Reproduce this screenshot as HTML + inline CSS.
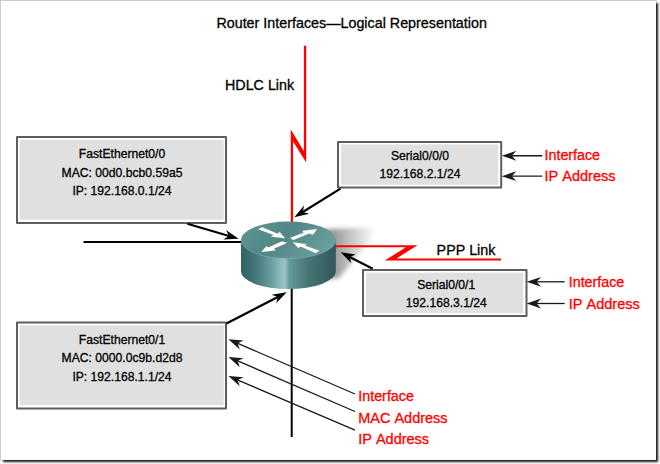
<!DOCTYPE html>
<html>
<head>
<meta charset="utf-8">
<title>Router Interfaces—Logical Representation</title>
<style>
html,body{margin:0;padding:0;background:#fff;}
body{width:660px;height:464px;overflow:hidden;position:relative;font-family:"Liberation Sans",Arial,sans-serif;}
#frame{position:absolute;left:0;top:0;width:656px;height:460px;box-sizing:border-box;border-top:1px solid #ccc;border-left:1px solid #ccc;background:#fff;box-shadow:2.5px 2.5px 2px -0.5px #1a1a1a;}
svg{position:absolute;left:0;top:0;}
text{font-family:"Liberation Sans",Arial,sans-serif;font-kerning:none;}
.t14{font-size:14.3px;fill:#000;stroke:#000;stroke-width:0.3px;}
.t12{font-size:12.15px;fill:#000;stroke:#000;stroke-width:0.3px;}
.red{fill:#ff0000;stroke:#ff0000;font-size:14.15px;}
</style>
</head>
<body>
<div id="frame"></div>
<div style="position:absolute;left:0;top:0;width:657px;height:1px;background:#ccc"></div>
<div style="position:absolute;left:0;top:0;width:1px;height:461px;background:#ccc"></div>
<svg width="660" height="464" viewBox="0 0 660 464">
<defs>
  <linearGradient id="side" x1="0" y1="0" x2="1" y2="0">
    <stop offset="0" stop-color="#2f6264"/>
    <stop offset="0.15" stop-color="#44777a"/>
    <stop offset="0.32" stop-color="#6a9d9f"/>
    <stop offset="0.46" stop-color="#9cc6c6"/>
    <stop offset="0.51" stop-color="#66999a"/>
    <stop offset="0.72" stop-color="#467374"/>
    <stop offset="1" stop-color="#31585a"/>
  </linearGradient>
  <linearGradient id="top" x1="0" y1="0.2" x2="1" y2="0.6">
    <stop offset="0" stop-color="#5e9293"/>
    <stop offset="0.45" stop-color="#528788"/>
    <stop offset="1" stop-color="#6b9fa0"/>
  </linearGradient>
  <radialGradient id="shadow" cx="0.5" cy="0.5" r="0.5">
    <stop offset="0" stop-color="#777" stop-opacity="0.9"/>
    <stop offset="0.6" stop-color="#999" stop-opacity="0.5"/>
    <stop offset="1" stop-color="#fff" stop-opacity="0"/>
  </radialGradient>
  <linearGradient id="shgrad" gradientUnits="userSpaceOnUse" x1="334" y1="0" x2="374" y2="0">
    <stop offset="0" stop-color="#555" stop-opacity="0.6"/>
    <stop offset="1" stop-color="#777" stop-opacity="0.05"/>
  </linearGradient>
  <filter id="blur" x="-30%" y="-30%" width="160%" height="160%"><feGaussianBlur stdDeviation="2.2"/></filter>
</defs>

<!-- title -->
<text class="t14" x="216.4" y="28.3" textLength="270.5" lengthAdjust="spacingAndGlyphs">Router Interfaces—Logical Representation</text>
<text class="t14" x="225" y="89.6" font-size="14.3">HDLC Link</text>
<text class="t14" x="436.6" y="254.8" font-size="14.3">PPP Link</text>

<!-- router shadow -->
<path d="M320,229.5 L375,227 L370,240 L339,278 L320,280 Z" fill="url(#shgrad)" filter="url(#blur)"/>

<!-- red links -->
<polygon points="306.2,45.8 306.2,162.6 293.1,141.5 293.1,223 290.8,223 290.8,129.5 303.9,151.3 303.9,45.8" fill="#ff0000"/>
<polygon points="333,245.2 417.5,245.2 396.4,258.5 501,258.5 501,260.5 384.8,260.5 405.9,247.3 333,247.3" fill="#ff0000"/>

<!-- black lines -->
<line x1="83.5" y1="242.1" x2="243" y2="242.1" stroke="#000" stroke-width="2"/>
<line x1="291.7" y1="285" x2="291.7" y2="437" stroke="#000" stroke-width="2"/>

<!-- router -->
<path d="M241,240 L241,271.3 A47.4,17.8 0 0 0 335.8,271.3 L335.8,240 Z" fill="url(#side)"/>
<ellipse cx="288.4" cy="240" rx="47.4" ry="18.5" fill="url(#top)"/>
<path d="M241,240 A47.4,18.5 0 0 0 335.8,240" fill="none" stroke="#79aeb0" stroke-width="0.8" opacity="0.8"/>
<g fill="#fff" stroke="#6b7a7a" stroke-width="0.3">
  <polygon points="257.9,229.3 262.1,227.1 277.6,233.5 279.7,231.7 285.4,238.5 270.4,236.8 273,235.1"/>
  <polygon points="289.8,237.8 303.3,232.7 302.1,230.7 317.4,228.8 313,235.1 309,233.8 293.2,240.2"/>
  <polygon points="281.8,241.2 287.8,242.8 274.2,248.7 276.1,250.5 260.9,252.3 266.4,246 268.4,247.2"/>
  <polygon points="292.4,242 307,244.1 305.2,245.4 320.1,250.8 315.5,253.3 300.7,246.8 298.2,248.2"/>
</g>

<!-- boxes -->
<g>
  <rect x="17" y="137" width="209" height="86" fill="#fff" stroke="#5e5e5e" stroke-width="2" stroke-linejoin="round"/>
  <rect x="19.7" y="140" width="204" height="79.7" fill="#e0e0e0"/>
  <rect x="17" y="322.5" width="209" height="86" fill="#fff" stroke="#5e5e5e" stroke-width="2" stroke-linejoin="round"/>
  <rect x="19.7" y="325.5" width="204" height="79.7" fill="#e0e0e0"/>
  <rect x="338" y="142" width="163.2" height="45.5" fill="#fff" stroke="#5e5e5e" stroke-width="2" stroke-linejoin="round"/>
  <rect x="341" y="144.4" width="157.3" height="40.4" fill="#e0e0e0"/>
  <rect x="363" y="270" width="163.5" height="46" fill="#fff" stroke="#5e5e5e" stroke-width="2" stroke-linejoin="round"/>
  <rect x="366" y="272.7" width="157.3" height="40.5" fill="#e0e0e0"/>
</g>

<!-- box text -->
<g class="t12" text-anchor="middle">
  <text x="122" y="158.4">FastEthernet0/0</text>
  <text x="122" y="176.6">MAC: 00d0.bcb0.59a5</text>
  <text x="122" y="195">IP: 192.168.0.1/24</text>
  <text x="122" y="344">FastEthernet0/1</text>
  <text x="122" y="362.3">MAC: 0000.0c9b.d2d8</text>
  <text x="122" y="380.8">IP: 192.168.1.1/24</text>
  <text x="420" y="160.4">Serial0/0/0</text>
  <text x="420" y="178.3">192.168.2.1/24</text>
  <text x="446.2" y="288.7">Serial0/0/1</text>
  <text x="446.3" y="306.6">192.168.3.1/24</text>
</g>

<!-- thick arrows -->
<g>
  <line x1="187.40" y1="223.80" x2="229.96" y2="236.27" stroke="#000" stroke-width="2.2"/><polygon points="238.60,238.80 223.31,239.43 229.00,235.99 226.06,230.02" fill="#000"/>
  <line x1="340.50" y1="188.60" x2="301.95" y2="212.46" stroke="#000" stroke-width="2.2"/><polygon points="294.30,217.20 304.05,205.40 302.80,211.94 309.21,213.73" fill="#000"/>
  <line x1="372.70" y1="268.80" x2="348.70" y2="256.42" stroke="#000" stroke-width="2.2"/><polygon points="340.70,252.30 355.83,254.59 349.59,256.88 351.34,263.30" fill="#000"/>
  <line x1="226.50" y1="323.60" x2="278.71" y2="296.45" stroke="#000" stroke-width="2.2"/><polygon points="286.70,292.30 276.10,303.34 277.83,296.91 271.57,294.64" fill="#000"/>
</g>
<!-- thin arrows -->
<g>
  <line x1="542.30" y1="155.75" x2="510.80" y2="155.75" stroke="#1a1a1a" stroke-width="1.3"/><polygon points="501.80,155.75 516.30,150.85 511.80,155.75 516.30,160.65" fill="#1a1a1a"/>
  <line x1="542.30" y1="176.20" x2="510.80" y2="176.20" stroke="#1a1a1a" stroke-width="1.3"/><polygon points="501.80,176.20 516.30,171.30 511.80,176.20 516.30,181.10" fill="#1a1a1a"/>
  <line x1="564.70" y1="281.80" x2="535.60" y2="281.80" stroke="#1a1a1a" stroke-width="1.3"/><polygon points="526.60,281.80 541.10,276.90 536.60,281.80 541.10,286.70" fill="#1a1a1a"/>
  <line x1="564.70" y1="303.50" x2="535.60" y2="303.50" stroke="#1a1a1a" stroke-width="1.3"/><polygon points="526.60,303.50 541.10,298.60 536.60,303.50 541.10,308.40" fill="#1a1a1a"/>
  <line x1="355.00" y1="394.00" x2="236.66" y2="342.87" stroke="#1a1a1a" stroke-width="1.3"/><polygon points="228.40,339.30 243.65,340.55 237.58,343.27 239.77,349.55" fill="#1a1a1a"/>
  <line x1="355.00" y1="411.50" x2="236.66" y2="360.46" stroke="#1a1a1a" stroke-width="1.3"/><polygon points="228.40,356.90 243.66,358.14 237.58,360.86 239.77,367.14" fill="#1a1a1a"/>
  <line x1="355.00" y1="430.20" x2="236.67" y2="379.54" stroke="#1a1a1a" stroke-width="1.3"/><polygon points="228.40,376.00 243.66,377.20 237.59,379.94 239.80,386.21" fill="#1a1a1a"/>
</g>

<!-- red labels -->
<g class="t14 red" lengthAdjust="spacingAndGlyphs">
  <text x="544.6" y="160.4" textLength="55.4" lengthAdjust="spacingAndGlyphs">Interface</text>
  <text x="544.6" y="181.2" textLength="70.9" lengthAdjust="spacingAndGlyphs">IP Address</text>
  <text x="568.8" y="286.5" textLength="55.4" lengthAdjust="spacingAndGlyphs">Interface</text>
  <text x="568.8" y="308.5" textLength="70.9" lengthAdjust="spacingAndGlyphs">IP Address</text>
  <text x="358.2" y="401.4" textLength="55.8" lengthAdjust="spacingAndGlyphs">Interface</text>
  <text x="358.2" y="422.6" textLength="89.4" lengthAdjust="spacingAndGlyphs">MAC Address</text>
  <text x="358.2" y="443.9" textLength="70.9" lengthAdjust="spacingAndGlyphs">IP Address</text>
</g>
</svg>
</body>
</html>
